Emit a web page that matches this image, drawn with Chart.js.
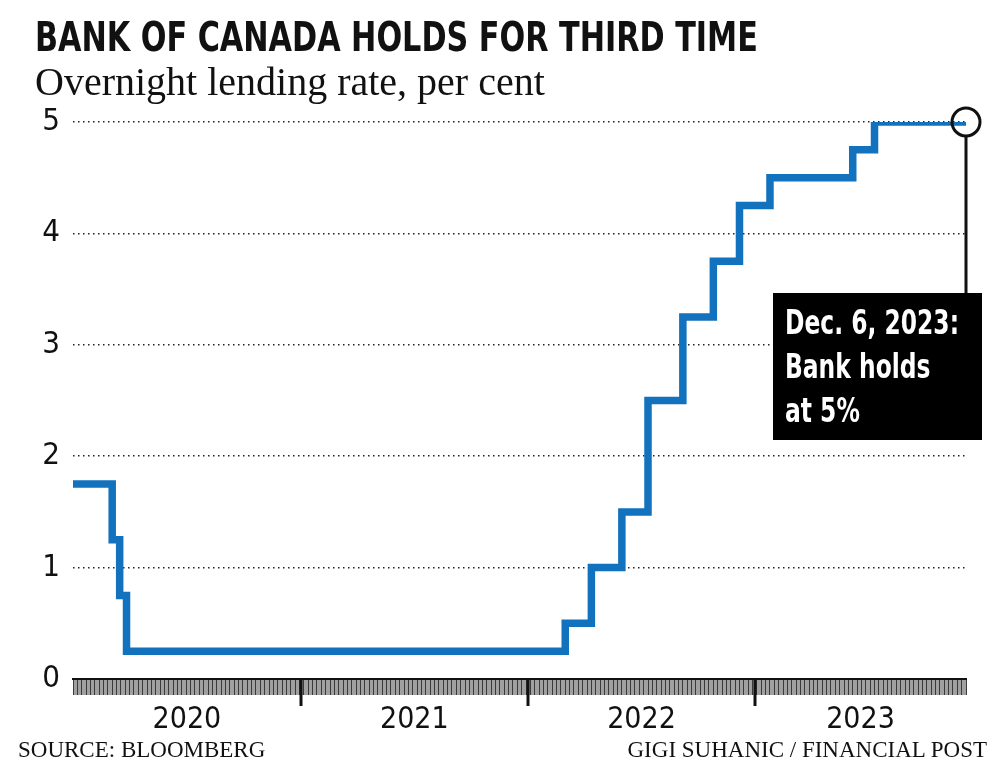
<!DOCTYPE html>
<html lang="en">
<head>
    <meta charset="UTF-8">
    <title>Bank of Canada holds for third time</title>
    <script src="https://cdn.jsdelivr.net/npm/chart.js@4.4.0/dist/chart.umd.min.js"></script>
    <style>
        body { margin: 0; background: #fff; }
        #wrap { position: relative; width: 1000px; height: 766px; overflow: hidden; }
        #chart { position: absolute; left: 0; top: 0; }
        .txt { position: absolute; white-space: nowrap; line-height: 1; color: #111; }
        #title { left: 35px; top: 14px; font: bold 40px "Liberation Sans Narrow", "DejaVu Sans Condensed", sans-serif;
                 transform-origin: 0 0; }
        #subtitle { left: 35px; top: 58px; font: 40px "Liberation Serif", serif; }
        #source { left: 18px; top: 737px; font: 23px "Liberation Serif", serif; }
        #credit { right: 13px; top: 737px; font: 23px "Liberation Serif", serif; }
    </style>
</head>
<body>
    <div id="wrap">
        <canvas id="chart" width="1000" height="766"></canvas>
        <div class="txt" id="title">BANK OF CANADA HOLDS FOR THIRD TIME</div>
        <div class="txt" id="subtitle">Overnight lending rate, per cent</div>
        <div class="txt" id="source">SOURCE: BLOOMBERG</div>
        <div class="txt" id="credit">GIGI SUHANIC / FINANCIAL POST</div>
    </div>

    <script>
        // rate decisions (date the new rate took effect)
        const rateDates = ['2020-01-01', '2020-03-04', '2020-03-16', '2020-03-27',
            '2022-03-02', '2022-04-13', '2022-06-01', '2022-07-13', '2022-09-07',
            '2022-10-26', '2022-12-07', '2023-01-25', '2023-06-07', '2023-07-12', '2023-12-06'];
        const rateValues = [1.75, 1.25, 0.75, 0.25,
            0.5, 1.0, 1.5, 2.5, 3.25,
            3.75, 4.25, 4.5, 4.75, 5.0, 5.0];
        const yearLabels = ['2020', '2021', '2022', '2023'];
        const yTicks = [0, 1, 2, 3, 4, 5];
        const noteLines = ['Dec. 6, 2023:', 'Bank holds', 'at 5%'];

        const NARROW = '"Liberation Sans Narrow", "DejaVu Sans Condensed", sans-serif';
        const BLUE = '#1272bd';

        // squeeze the headline to the reference width (no condensed bold font here)
        const title = document.getElementById('title');
        title.style.transform = 'scaleX(' + (723 / title.offsetWidth) + ')';

        // days since Jan 1, 2020
        function dayOf(s) {
            const p = s.split('-').map(Number);
            return (Date.UTC(p[0], p[1] - 1, p[2]) - Date.UTC(2020, 0, 1)) / 86400000;
        }
        const points = rateDates.map((d, i) => ({ x: dayOf(d), y: rateValues[i] }));
        const xMin = 0;
        const xMax = points[points.length - 1].x;
        const yearStarts = yearLabels.slice(1).map(y => dayOf(y + '-01-01'));
        const yearMids = yearLabels.map((y, i) => {
            const a = Math.max(xMin, dayOf(y + '-01-01'));
            const b = Math.min(xMax, dayOf((+y + 1) + '-01-01'));
            return (a + b) / 2;
        });

        // grey hatched band under the axis + year separators
        const bandPlugin = {
            id: 'band',
            beforeDraw(chart) {
                const s = chart.scales.x, c = chart.ctx;
                c.save();
                c.fillStyle = '#a0a0a0';
                c.fillRect(s.left, s.top, s.right - s.left, s.bottom - s.top);
                c.restore();
            },
            afterDraw(chart) {
                const s = chart.scales.x, c = chart.ctx;
                c.save();
                c.strokeStyle = '#111';
                c.lineWidth = 3;
                yearStarts.forEach(d => {
                    const px = Math.round(s.getPixelForValue(d));
                    c.beginPath();
                    c.moveTo(px, s.top);
                    c.lineTo(px, s.bottom + 11);
                    c.stroke();
                });
                c.restore();
            }
        };

        // circle + callout on the last point
        const notePlugin = {
            id: 'note',
            afterDatasetsDraw(chart) {
                const meta = chart.getDatasetMeta(0);
                const pt = meta.data[meta.data.length - 1];
                const c = chart.ctx;
                const boxL = pt.x - 193, boxT = pt.y + 171, boxW = 209, boxH = 147;
                c.save();
                c.strokeStyle = '#111';
                c.lineWidth = 3;
                c.beginPath();
                c.arc(pt.x, pt.y, 14, 0, Math.PI * 2);
                c.stroke();
                c.beginPath();
                c.moveTo(pt.x, pt.y + 14);
                c.lineTo(pt.x, boxT);
                c.stroke();
                c.fillStyle = '#000';
                c.fillRect(boxL, boxT, boxW, boxH);
                c.fillStyle = '#fff';
                c.font = 'bold 34px ' + NARROW;
                c.textBaseline = 'alphabetic';
                const sx = Math.min(1, 174 / c.measureText(noteLines[0]).width);
                noteLines.forEach((t, i) => {
                    c.save();
                    c.translate(boxL + 12, boxT + 41 + i * 44);
                    c.scale(sx, 1);
                    c.fillText(t, 0, 0);
                    c.restore();
                });
                c.restore();
            }
        };

        new Chart(document.getElementById('chart'), {
            type: 'line',
            data: {
                datasets: [{
                    data: points,
                    stepped: true,
                    borderColor: BLUE,
                    borderWidth: 7.5,
                    borderCapStyle: 'round',
                    borderJoinStyle: 'miter',
                    pointRadius: 0,
                    fill: false
                }]
            },
            options: {
                responsive: false,
                animation: false,
                devicePixelRatio: 1,
                layout: { padding: { top: 122, right: 34, bottom: 11, left: 0 } },
                plugins: {
                    legend: { display: false },
                    tooltip: { enabled: false }
                },
                scales: {
                    x: {
                        type: 'linear',
                        position: 'bottom',
                        weight: 0,
                        min: xMin,
                        max: xMax,
                        afterBuildTicks: s => {
                            const t = [];
                            for (let d = xMin; d <= xMax; d += 7) t.push({ value: d });
                            s.ticks = t;
                        },
                        afterFit: s => { s.height = 16; },
                        ticks: { display: false },
                        grid: {
                            drawOnChartArea: false,
                            drawTicks: true,
                            tickLength: 16,
                            tickColor: '#3a3a3a',
                            tickWidth: 1
                        },
                        border: { display: true, color: '#111', width: 2 }
                    },
                    xYear: {
                        type: 'linear',
                        position: 'bottom',
                        weight: 1,
                        min: xMin,
                        max: xMax,
                        afterBuildTicks: s => { s.ticks = yearMids.map(v => ({ value: v })); },
                        afterFit: s => { s.height = 60; },
                        ticks: {
                            autoSkip: false,
                            maxRotation: 0,
                            padding: 10,
                            color: '#111',
                            font: { family: NARROW, size: 30, lineHeight: 1 },
                            callback: (v, i) => yearLabels[i]
                        },
                        grid: { display: false, drawTicks: false },
                        border: { display: false }
                    },
                    y: {
                        min: 0,
                        max: 5,
                        afterBuildTicks: s => { s.ticks = yTicks.map(v => ({ value: v })); },
                        afterFit: s => { s.width = 73; },
                        ticks: {
                            padding: 13,
                            color: '#111',
                            font: { family: NARROW, size: 31, lineHeight: 1 }
                        },
                        grid: {
                            drawTicks: false,
                            color: ctx => ctx.tick && ctx.tick.value === 0 ? 'rgba(0,0,0,0)' : '#222',
                            lineWidth: 1.5
                        },
                        border: { display: false, dash: [1.5, 3.5] }
                    }
                }
            },
            plugins: [bandPlugin, notePlugin]
        });
    </script>
</body>
</html>
